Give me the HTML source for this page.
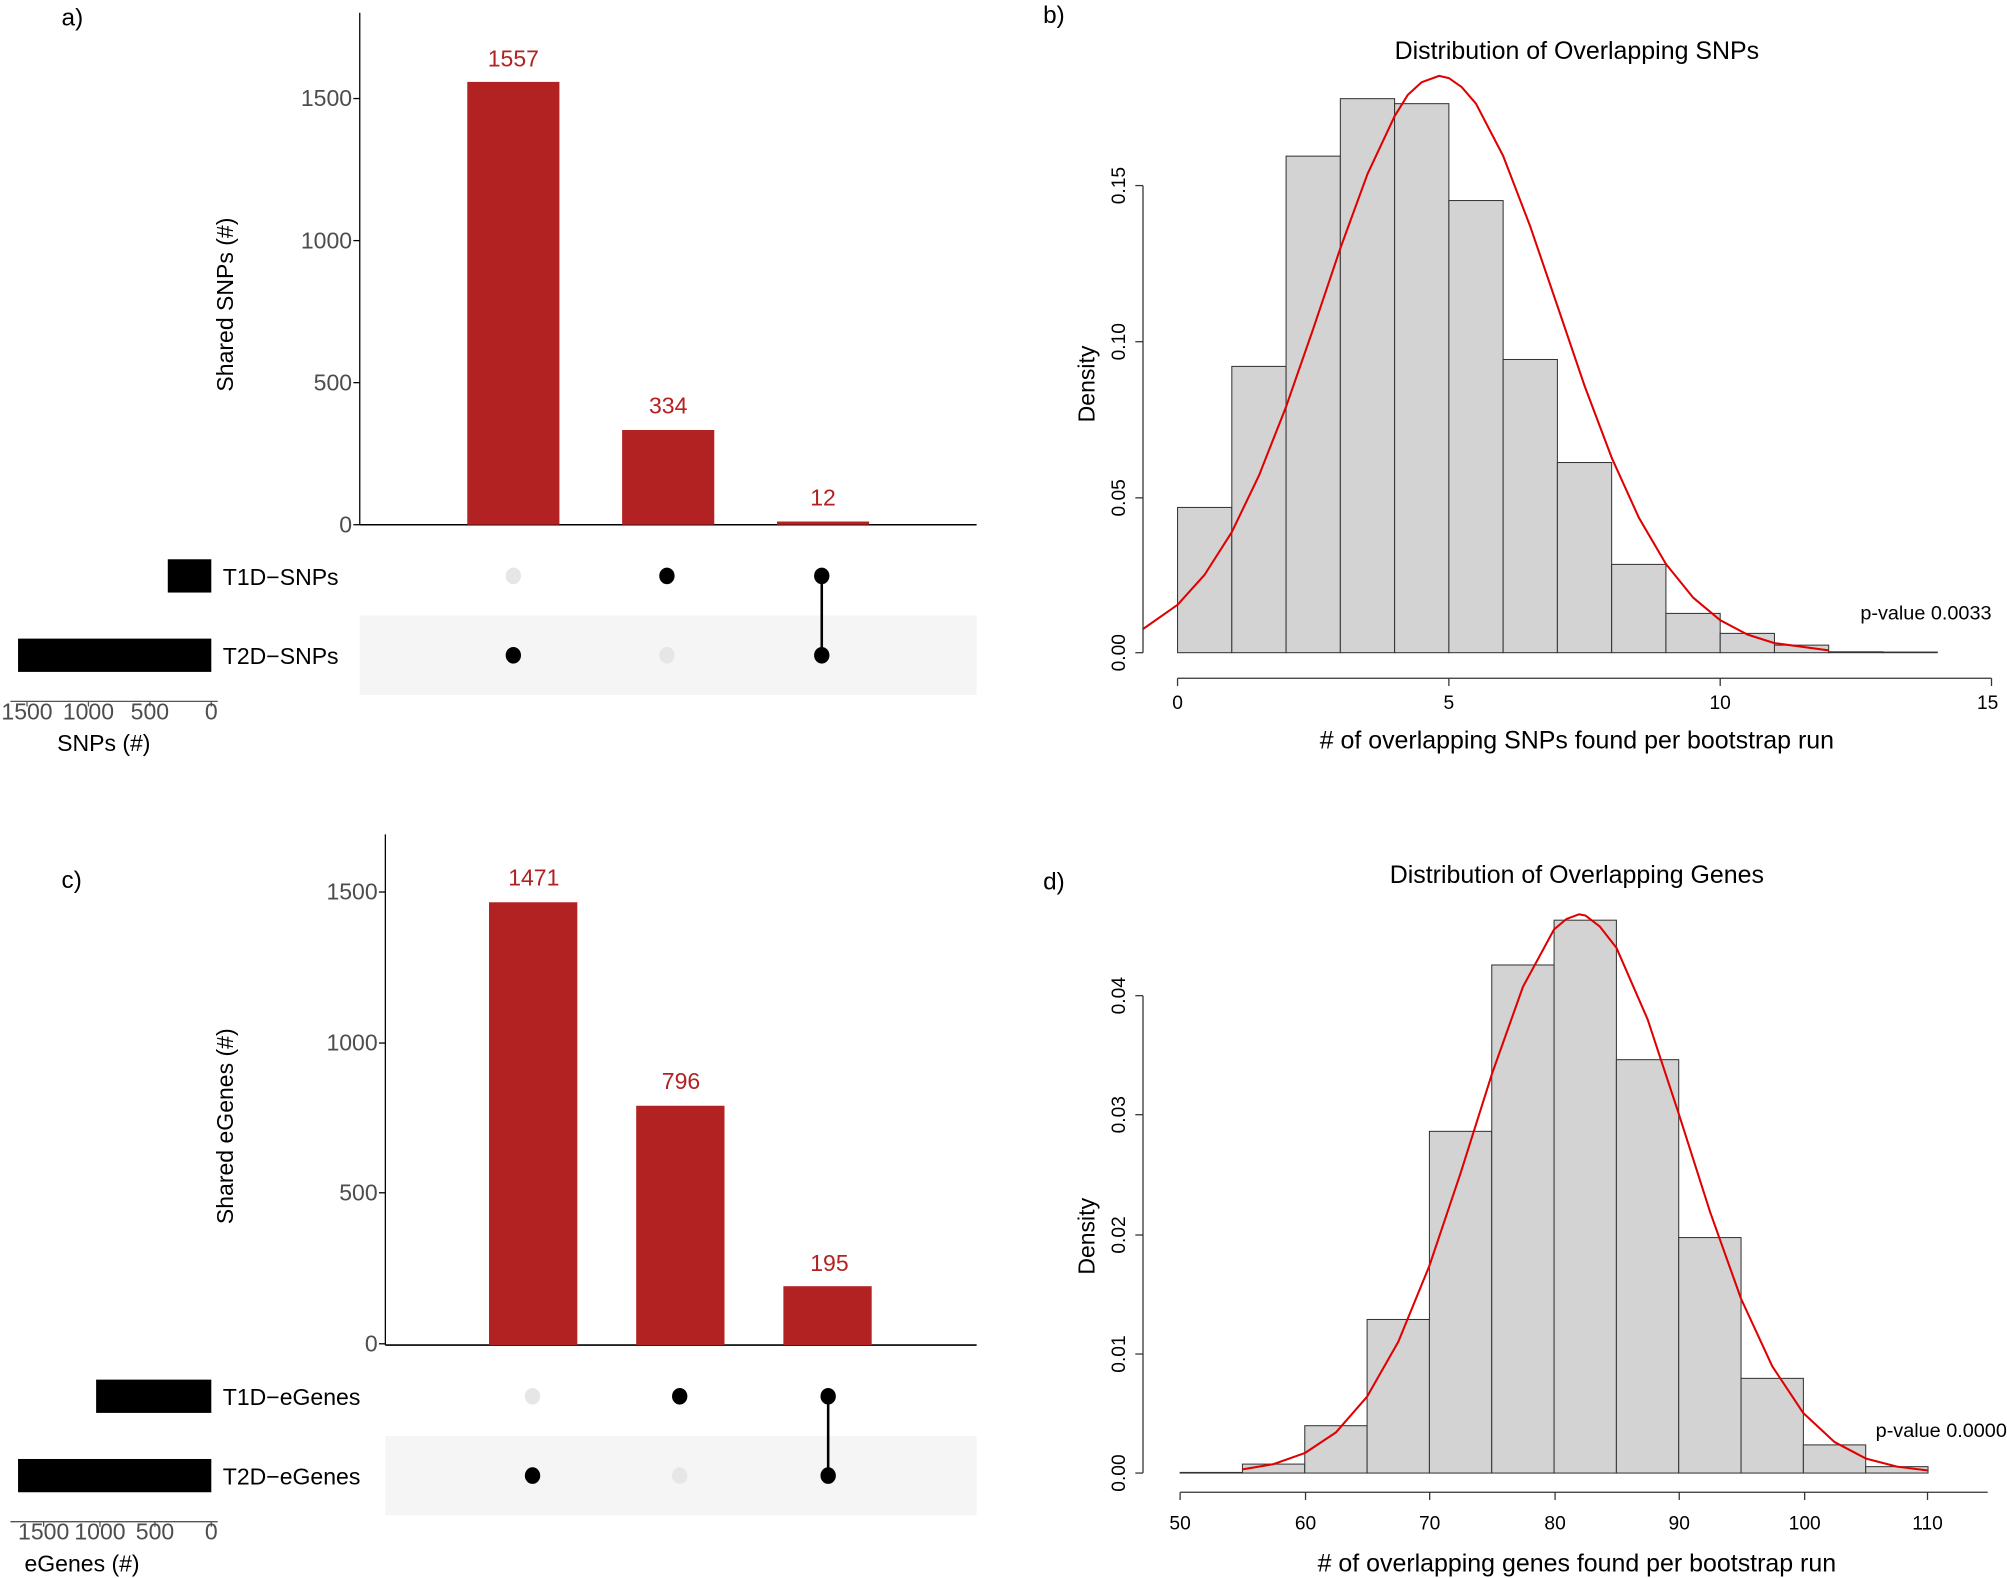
<!DOCTYPE html>
<html><head><meta charset="utf-8"><style>
html,body{margin:0;padding:0;background:#fff}
svg{display:block}
text{font-family:"Liberation Sans",Arial,sans-serif}
</style></head><body>
<svg width="2007" height="1578" viewBox="0 0 1568 1233" xmlns="http://www.w3.org/2000/svg">
<rect width="1568" height="1233" fill="#fff"/>
<!-- Panel a -->
<text x="48" y="20" font-size="19">a)</text>
<rect x="281" y="481" width="482" height="62" fill="#f5f5f5"/>
<line x1="281" y1="10" x2="281" y2="410" stroke="#000" stroke-width="1"/>
<line x1="281" y1="410" x2="763" y2="410" stroke="#000" stroke-width="1.2"/>
<g stroke="#000"><line x1="276" y1="410" x2="281" y2="410"/><line x1="276" y1="299" x2="281" y2="299"/><line x1="276" y1="188" x2="281" y2="188"/><line x1="276" y1="77" x2="281" y2="77"/></g>
<g font-size="18" fill="#4d4d4d" text-anchor="end"><text x="275" y="416">0</text><text x="275" y="305">500</text><text x="275" y="194">1000</text><text x="275" y="83">1500</text></g>
<text transform="translate(182,238) rotate(-90)" font-size="18" text-anchor="middle">Shared SNPs (#)</text>
<g fill="#b22222"><rect x="365" y="64" width="72" height="346"/><rect x="486" y="336" width="72" height="74"/><rect x="607" y="407.5" width="72" height="2.5"/></g>
<g font-size="18" fill="#b22222" text-anchor="middle"><text x="401" y="52">1557</text><text x="522" y="323">334</text><text x="643" y="395">12</text></g>
<g fill="#e6e6e6"><ellipse cx="401" cy="450" rx="6" ry="6.5"/><ellipse cx="521" cy="512" rx="6" ry="6.5"/></g>
<line x1="642" y1="450" x2="642" y2="512" stroke="#000" stroke-width="2"/>
<g fill="#000"><ellipse cx="521" cy="450" rx="6" ry="6.5"/><ellipse cx="642" cy="450" rx="6" ry="6.5"/><ellipse cx="401" cy="512" rx="6" ry="6.5"/><ellipse cx="642" cy="512" rx="6" ry="6.5"/></g>
<g font-size="18" text-anchor="start"><text x="174" y="457">T1D−SNPs</text><text x="174" y="519">T2D−SNPs</text></g>
<rect x="131" y="437" width="34" height="26" fill="#000"/>
<rect x="14" y="499" width="151" height="26" fill="#000"/>
<line x1="8" y1="548" x2="170" y2="548" stroke="#555"/>
<g stroke="#555"><line x1="21" y1="548" x2="21" y2="552"/><line x1="69" y1="548" x2="69" y2="552"/><line x1="117" y1="548" x2="117" y2="552"/><line x1="165" y1="548" x2="165" y2="552"/></g>
<g font-size="18" fill="#4d4d4d" text-anchor="middle"><text x="21" y="562">1500</text><text x="69" y="562">1000</text><text x="117" y="562">500</text><text x="165" y="562">0</text></g>
<text x="81" y="587" font-size="18" text-anchor="middle">SNPs (#)</text>

<!-- Panel c -->
<text x="48" y="694" font-size="19">c)</text>
<rect x="301" y="1122" width="462" height="62" fill="#f5f5f5"/>
<line x1="301" y1="652" x2="301" y2="1051" stroke="#000"/>
<line x1="301" y1="1051" x2="763" y2="1051" stroke="#000" stroke-width="1.2"/>
<g stroke="#000"><line x1="296" y1="1050" x2="301" y2="1050"/><line x1="296" y1="932" x2="301" y2="932"/><line x1="296" y1="815" x2="301" y2="815"/><line x1="296" y1="697" x2="301" y2="697"/></g>
<g font-size="18" fill="#4d4d4d" text-anchor="end"><text x="295" y="1056">0</text><text x="295" y="938">500</text><text x="295" y="821">1000</text><text x="295" y="703">1500</text></g>
<text transform="translate(182,880) rotate(-90)" font-size="18" text-anchor="middle">Shared eGenes (#)</text>
<g fill="#b22222"><rect x="382" y="705" width="69" height="346"/><rect x="497" y="864" width="69" height="187"/><rect x="612" y="1005" width="69" height="46"/></g>
<g font-size="18" fill="#b22222" text-anchor="middle"><text x="417" y="692">1471</text><text x="532" y="851">796</text><text x="648" y="993">195</text></g>
<g fill="#e6e6e6"><ellipse cx="416" cy="1091" rx="6" ry="6.5"/><ellipse cx="531" cy="1153" rx="6" ry="6.5"/></g>
<line x1="647" y1="1091" x2="647" y2="1153" stroke="#000" stroke-width="2"/>
<g fill="#000"><ellipse cx="531" cy="1091" rx="6" ry="6.5"/><ellipse cx="647" cy="1091" rx="6" ry="6.5"/><ellipse cx="416" cy="1153" rx="6" ry="6.5"/><ellipse cx="647" cy="1153" rx="6" ry="6.5"/></g>
<g font-size="18"><text x="174" y="1098">T1D−eGenes</text><text x="174" y="1160">T2D−eGenes</text></g>
<rect x="75" y="1078" width="90" height="26" fill="#000"/>
<rect x="14" y="1140" width="151" height="26" fill="#000"/>
<line x1="8" y1="1189" x2="170" y2="1189" stroke="#555"/>
<g stroke="#555"><line x1="34" y1="1189" x2="34" y2="1193"/><line x1="78" y1="1189" x2="78" y2="1193"/><line x1="121" y1="1189" x2="121" y2="1193"/><line x1="165" y1="1189" x2="165" y2="1193"/></g>
<g font-size="18" fill="#4d4d4d" text-anchor="middle"><text x="34" y="1203">1500</text><text x="78" y="1203">1000</text><text x="121" y="1203">500</text><text x="165" y="1203">0</text></g>
<text x="64" y="1228" font-size="18" text-anchor="middle">eGenes (#)</text>

<!-- Panel b -->
<text x="815" y="18" font-size="19">b)</text>
<text x="1232" y="46" font-size="19.5" text-anchor="middle">Distribution of Overlapping SNPs</text>
<g fill="#d3d3d3" stroke="#333" stroke-width="0.8">
<rect x="920" y="396.5" width="42.4" height="113.5"/>
<rect x="962.4" y="286.3" width="42.4" height="223.7"/>
<rect x="1004.8" y="122" width="42.4" height="388"/>
<rect x="1047.2" y="77.1" width="42.4" height="432.9"/>
<rect x="1089.6" y="81" width="42.4" height="429"/>
<rect x="1132" y="156.7" width="42.4" height="353.3"/>
<rect x="1174.4" y="280.9" width="42.4" height="229.1"/>
<rect x="1216.8" y="361.4" width="42.4" height="148.6"/>
<rect x="1259.2" y="441" width="42.4" height="69"/>
<rect x="1301.6" y="479.3" width="42.4" height="30.7"/>
<rect x="1344" y="494.9" width="42.4" height="15.1"/>
<rect x="1386.4" y="504.1" width="42.4" height="5.9"/>
<rect x="1428.8" y="509.3" width="42.4" height="0.7"/>
<rect x="1471.2" y="509.5" width="42.4" height="0.5"/>
</g>
<polyline fill="none" stroke="#e00000" stroke-width="1.6" stroke-linejoin="round" points="893,491.5 920,472.6 941.2,449 962.4,415.7 983.6,371.6 1004.8,317.8 1026,256.9 1047.2,194 1068.4,136 1089.6,90.8 1100,74 1110.8,64.2 1124.4,59.3 1132,61 1142,68 1153.2,81 1174.4,121.8 1195.6,177 1216.8,239 1238,301.4 1259.2,357.6 1280.4,404.4 1301.6,440.7 1322.8,466.9 1344,484.6 1365.2,495.8 1386.4,502.5 1428.8,508.2"/>
<line x1="893" y1="145" x2="893" y2="510" stroke="#333"/>
<g stroke="#333"><line x1="887" y1="510" x2="893" y2="510"/><line x1="887" y1="389" x2="893" y2="389"/><line x1="887" y1="267" x2="893" y2="267"/><line x1="887" y1="145" x2="893" y2="145"/></g>
<g font-size="15" text-anchor="middle">
<text transform="translate(879,510) rotate(-90)">0.00</text>
<text transform="translate(879,389) rotate(-90)">0.05</text>
<text transform="translate(879,267) rotate(-90)">0.10</text>
<text transform="translate(879,145) rotate(-90)">0.15</text>
</g>
<text transform="translate(855,300) rotate(-90)" font-size="18" text-anchor="middle">Density</text>
<line x1="920" y1="530" x2="1556" y2="530" stroke="#333"/>
<g stroke="#333"><line x1="920" y1="530" x2="920" y2="536"/><line x1="1132" y1="530" x2="1132" y2="536"/><line x1="1344" y1="530" x2="1344" y2="536"/><line x1="1556" y1="530" x2="1556" y2="536"/></g>
<g font-size="15" text-anchor="middle"><text x="920" y="554">0</text><text x="1132" y="554">5</text><text x="1344" y="554">10</text><text x="1553" y="554">15</text></g>
<text x="1232" y="585" font-size="19.5" text-anchor="middle"># of overlapping SNPs found per bootstrap run</text>
<text x="1556" y="484" font-size="15.5" text-anchor="end">p-value 0.0033</text>

<!-- Panel d -->
<text x="815" y="695" font-size="19">d)</text>
<text x="1232" y="690" font-size="19.5" text-anchor="middle">Distribution of Overlapping Genes</text>
<g fill="#d3d3d3" stroke="#333" stroke-width="0.8">
<rect x="922" y="1150.5" width="48.7" height="0.5"/>
<rect x="970.7" y="1144" width="48.7" height="7"/>
<rect x="1019.4" y="1114" width="48.7" height="37"/>
<rect x="1068.1" y="1031" width="48.7" height="120"/>
<rect x="1116.8" y="884" width="48.7" height="267"/>
<rect x="1165.5" y="754" width="48.7" height="397"/>
<rect x="1214.2" y="719" width="48.7" height="432"/>
<rect x="1262.9" y="828" width="48.7" height="323"/>
<rect x="1311.6" y="967" width="48.7" height="184"/>
<rect x="1360.3" y="1077" width="48.7" height="74"/>
<rect x="1409" y="1129" width="48.7" height="22"/>
<rect x="1457.7" y="1146" width="48.7" height="5"/>
</g>
<polyline fill="none" stroke="#e00000" stroke-width="1.6" stroke-linejoin="round" points="970.7,1148.1 995,1144 1019.4,1135.4 1043.8,1119.2 1068.1,1091.3 1092.5,1048.4 1116.8,989 1141.2,916.5 1165.5,839.6 1189.9,771 1214.2,726.2 1224,718 1233.7,714.4 1238.6,715.3 1250,724 1262.9,740.5 1287.3,796.5 1311.6,870.2 1336,946.7 1360.3,1014.8 1384.7,1067.6 1409,1104.2 1433.4,1126.8 1457.7,1139.6 1482.1,1146 1506.4,1149"/>
<line x1="893" y1="778" x2="893" y2="1151" stroke="#333"/>
<g stroke="#333"><line x1="887" y1="1151" x2="893" y2="1151"/><line x1="887" y1="1058" x2="893" y2="1058"/><line x1="887" y1="965" x2="893" y2="965"/><line x1="887" y1="871" x2="893" y2="871"/><line x1="887" y1="778" x2="893" y2="778"/></g>
<g font-size="15" text-anchor="middle">
<text transform="translate(879,1151) rotate(-90)">0.00</text>
<text transform="translate(879,1058) rotate(-90)">0.01</text>
<text transform="translate(879,965) rotate(-90)">0.02</text>
<text transform="translate(879,871) rotate(-90)">0.03</text>
<text transform="translate(879,778) rotate(-90)">0.04</text>
</g>
<text transform="translate(855,966) rotate(-90)" font-size="18" text-anchor="middle">Density</text>
<line x1="922" y1="1166" x2="1553" y2="1166" stroke="#333"/>
<g stroke="#333"><line x1="922" y1="1166" x2="922" y2="1172"/><line x1="1020" y1="1166" x2="1020" y2="1172"/><line x1="1117" y1="1166" x2="1117" y2="1172"/><line x1="1215" y1="1166" x2="1215" y2="1172"/><line x1="1312" y1="1166" x2="1312" y2="1172"/><line x1="1410" y1="1166" x2="1410" y2="1172"/><line x1="1506" y1="1166" x2="1506" y2="1172"/></g>
<g font-size="15" text-anchor="middle"><text x="922" y="1195">50</text><text x="1020" y="1195">60</text><text x="1117" y="1195">70</text><text x="1215" y="1195">80</text><text x="1312" y="1195">90</text><text x="1410" y="1195">100</text><text x="1506" y="1195">110</text></g>
<text x="1232" y="1228" font-size="19.5" text-anchor="middle"># of overlapping genes found per bootstrap run</text>
<text x="1568" y="1123" font-size="15.5" text-anchor="end">p-value 0.0000</text>
</svg>
</body></html>
